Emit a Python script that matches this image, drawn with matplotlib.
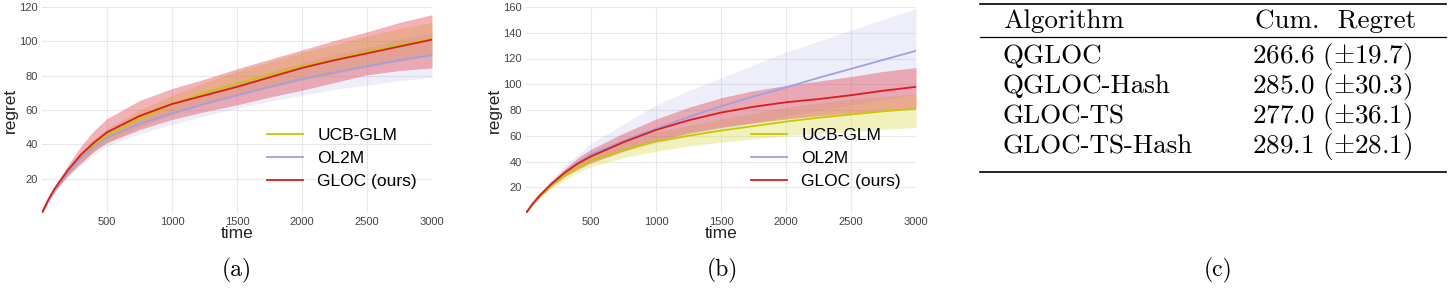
import matplotlib
matplotlib.use("Agg")
import matplotlib.pyplot as plt

plt.rcParams['font.family'] = ['Liberation Sans', 'DejaVu Sans']
plt.rcParams['mathtext.fontset'] = 'cm'

# ---- data ----
t = [0, 50, 100, 200, 300, 400, 500, 750, 1000, 1250, 1500, 1750, 2000, 2250, 2500, 2750, 3000]

# (a)
a_ucb = [0, 7, 13.5, 24, 32.5, 39.5, 45, 55, 63, 70, 75.5, 80.5, 85.5, 89.5, 94, 98, 101.5]
a_ucb_lo = [0, 6.5, 12.5, 22, 30, 36, 41, 50, 57.5, 64, 68.5, 73, 77.5, 81, 85, 88.5, 91.5]
a_ucb_hi = [0, 7.5, 14.5, 26, 35, 43, 49, 60, 68.5, 76, 82.5, 88, 93.5, 98, 103, 107.5, 111]
a_ol2m = [0, 7, 13.5, 23.5, 32, 38.5, 44, 52, 58, 63.5, 68.5, 73.5, 78, 82, 85.5, 89, 92]
a_ol2m_lo = [0, 6.5, 12, 21, 28, 34, 39, 46, 51.5, 56.5, 61, 65, 68.5, 72, 74.5, 77, 79]
a_ol2m_hi = [0, 7.5, 15, 26, 36, 43, 49, 58, 64.5, 70.5, 76, 82, 87.5, 92.5, 96.5, 101, 105]
a_gloc = [0, 8, 14.5, 25, 34, 41, 47, 56.5, 63.5, 68.5, 73.5, 79, 84.5, 89, 93, 97, 101]
a_gloc_lo = [0, 7, 13, 22, 29, 36, 41, 48.5, 54.5, 59, 63, 67.5, 71.5, 76, 80.5, 83, 84.5]
a_gloc_hi = [0, 9, 16, 28, 39, 48, 55, 65.5, 72.5, 78, 84, 89.5, 95, 100.5, 105.5, 111, 115.5]

# (b)
b_ucb = [0, 6.5, 12, 21.5, 29, 35.5, 41, 49, 55.5, 60, 64, 67.5, 71, 74, 76.5, 79, 81]
b_ucb_lo = [0, 6, 11, 19.5, 26, 31.5, 36, 43, 48, 52, 55, 57.5, 60, 62, 63.5, 65, 66.5]
b_ucb_hi = [0, 7, 13, 23.5, 32, 39.5, 46, 55, 63, 68, 73, 77.5, 82, 85.5, 88.5, 90.5, 92.5]
b_ol2m = [0, 7, 13, 23, 31.5, 39, 45.5, 56, 65.5, 74.5, 83, 90.5, 97.5, 105, 112, 119, 126]
b_ol2m_lo = [0, 6.5, 12, 21, 28.5, 35, 40, 48, 54, 59.5, 65, 70, 75, 79.5, 84, 88, 92]
b_ol2m_hi = [0, 8, 15, 27, 37, 45.5, 54, 69, 84, 95, 105, 115, 125, 133.5, 142, 150.5, 159]
b_gloc = [0, 7, 13, 23, 31.5, 38.5, 44, 55, 64.5, 72, 78, 82.5, 86, 88.5, 91.5, 95, 98]
b_gloc_lo = [0, 6.5, 12, 21, 28.5, 34, 39, 48, 56, 62, 66.5, 70, 73, 75.5, 77.5, 79.5, 81.5]
b_gloc_hi = [0, 7.5, 14, 25, 34.5, 43, 49.5, 62, 73, 82, 89.5, 95, 99, 102.5, 106, 110, 113]

labels = ['UCB-GLM', 'OL2M', 'GLOC (ours)']
colors = ['#c8c800', '#a0a0e0', '#dd1c1c']
fill_colors = ['#d8d840', '#b4b4ee', '#e0404a']
fill_alpha = [0.35, 0.22, 0.4]

# table
algos = ['QGLOC', 'QGLOC-Hash', 'GLOC-TS', 'GLOC-TS-Hash']
regret = ['266.6', '285.0', '277.0', '289.1']
regret_sd = ['19.7', '30.3', '36.1', '28.1']

fig = plt.figure(figsize=(14.5, 2.88), dpi=100)
W, H = 1450, 288


def panel(left, means, los, his, ymax, yticks):
    ax = fig.add_axes([left / W, 75 / H, 390 / W, 206 / H])
    for m, lo, hi, c, fc, al, lab in zip(means, los, his, colors, fill_colors, fill_alpha, labels):
        ax.fill_between(t, lo, hi, color=fc, alpha=al, linewidth=0)
        ax.plot(t, m, color=c, linewidth=1.3, label=lab)
    ax.set_xlim(0, 3000)
    ax.set_ylim(0, ymax)
    ax.set_xticks([500, 1000, 1500, 2000, 2500, 3000])
    ax.set_yticks(yticks)
    ax.grid(True, color='#e8e8e8', linewidth=0.8)
    ax.set_axisbelow(True)
    for s in ax.spines.values():
        s.set_visible(False)
    ax.tick_params(length=0, labelsize=8, labelcolor='#444444', pad=3)
    ax.set_xlabel('time', fontsize=12.5, color='#222222')
    ax.set_ylabel('regret', fontsize=12.5, color='#222222')
    ax.xaxis.set_label_coords(0.5, -0.062)
    ax.yaxis.set_label_coords(-0.063, 0.5)
    ax.legend(loc='upper left', bbox_to_anchor=(0.559, 0.447), frameon=False,
              fontsize=12.5, handlelength=2.1, borderaxespad=0, labelspacing=0.45)
    return ax


panel(42, [a_ucb, a_ol2m, a_gloc], [a_ucb_lo, a_ol2m_lo, a_gloc_lo],
      [a_ucb_hi, a_ol2m_hi, a_gloc_hi], 120, [20, 40, 60, 80, 100, 120])
panel(526, [b_ucb, b_ol2m, b_gloc], [b_ucb_lo, b_ol2m_lo, b_gloc_lo],
      [b_ucb_hi, b_ol2m_hi, b_gloc_hi], 160, [20, 40, 60, 80, 100, 120, 140, 160])

# (c) table
tab = fig.add_axes([0, 0, 1, 1], facecolor='none')
tab.set_xlim(0, W)
tab.set_ylim(H, 0)
tab.axis('off')
tab.plot([980, 1446], [4, 4], color='k', linewidth=1.2)
tab.plot([980, 1446], [37, 37], color='k', linewidth=0.9)
tab.plot([980, 1446], [172, 172], color='k', linewidth=1.2)
tfont = dict(family='cmr10', fontsize=19.5, va='baseline')
tab.text(1003, 28, 'Algorithm', ha='left', **tfont)
tab.text(1255, 28, 'Cum.  Regret', ha='left', **tfont)
row_y = [63, 93, 123, 153]
for y, a, r, s in zip(row_y, algos, regret, regret_sd):
    tab.text(1003, y, a, ha='left', **tfont)
    tab.text(1252, y, r + r' ($\pm$' + s + ')', ha='left', **tfont)

for x, s in zip([237, 722, 1218], ['(a)', '(b)', '(c)']):
    tab.text(x, 270, s, ha='center', va='center', family='cmr10', fontsize=17)

fig.savefig('out.png', dpi=100)
